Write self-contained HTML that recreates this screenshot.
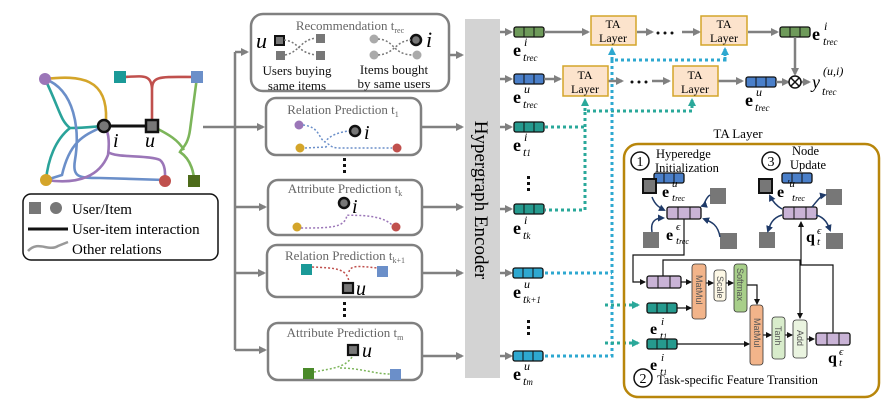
<!DOCTYPE html>
<html><head><meta charset="utf-8"><style>
html,body{margin:0;padding:0;background:#fff}
svg{display:block;font-family:"Liberation Serif",serif}
</style></head><body>
<svg width="888" height="408" viewBox="0 0 888 408" xmlns="http://www.w3.org/2000/svg">
<defs>
<marker id="ag" markerWidth="8" markerHeight="8" refX="6" refY="4" orient="auto" markerUnits="userSpaceOnUse"><path d="M0,0 L8,4 L0,8z" fill="#808080"/></marker>
<marker id="ak" markerWidth="6" markerHeight="6" refX="5" refY="3" orient="auto" markerUnits="userSpaceOnUse"><path d="M0,0 L6,3 L0,6z" fill="#111"/></marker>
<marker id="at" markerWidth="8" markerHeight="8" refX="6" refY="4" orient="auto" markerUnits="userSpaceOnUse"><path d="M0,0 L8,4 L0,8z" fill="#2aa89a"/></marker>
<marker id="ac" markerWidth="8" markerHeight="8" refX="6" refY="4" orient="auto" markerUnits="userSpaceOnUse"><path d="M0,0 L8,4 L0,8z" fill="#2ea8d0"/></marker>
<marker id="an" markerWidth="7" markerHeight="7" refX="5" refY="3.5" orient="auto" markerUnits="userSpaceOnUse"><path d="M0,0 L7,3.5 L0,7z" fill="#1f3a68"/></marker>
</defs>

<!-- left graph -->
<g fill="none" stroke-width="2.6">
<path d="M45,79 C80,75 108,78 106,120" stroke="#d4a52a"/>
<path d="M45,79 C60,110 60,120 70,128 C85,128 100,126 104,126" stroke="#2aa39a"/>
<path d="M70,128 C55,140 48,160 46,180" stroke="#2aa39a"/>
<path d="M45,79 C75,90 80,130 75,160 C72,178 80,178 100,178 L165,180" stroke="#6b8fc9"/>
<path d="M104,126 C85,135 70,140 62,175 L46,180" stroke="#6b8fc9"/>
<path d="M46,180 C80,185 100,175 108,155 C110,140 108,130 104,126" stroke="#9b76b8"/>
<path d="M108,152 C115,158 150,155 160,160 C166,165 165,175 165,180" stroke="#9b76b8"/>
<path d="M120,77 C140,77 152,72 152,90 L152,126 M152,90 C152,75 160,77 197,77" stroke="#c0504d"/>
<path d="M197,77 L190,130 C188,145 182,148 180,152 C192,160 194,175 194,181 M152,126 C170,135 178,140 184,150" stroke="#7cb55a"/>
</g>
<line x1="104" y1="126" x2="152" y2="126" stroke="#111" stroke-width="3"/>
<circle cx="45" cy="79" r="6" fill="#9b76b8"/>
<rect x="114" y="71" width="12" height="12" fill="#1b9a98"/>
<rect x="191" y="71" width="12" height="12" fill="#6b8fc9"/>
<circle cx="46" cy="180" r="6" fill="#d4a52a"/>
<circle cx="165" cy="181" r="6" fill="#c0504d"/>
<rect x="188" y="175" width="12" height="12" fill="#4d6b1a"/>
<circle cx="104" cy="126" r="6" fill="#777" stroke="#111" stroke-width="2.5"/>
<rect x="146" y="120" width="12" height="12" fill="#777" stroke="#111" stroke-width="2.5"/>
<text x="113" y="147" font-size="20" font-style="italic">i</text>
<text x="145" y="147" font-size="20" font-style="italic">u</text>

<!-- legend -->
<rect x="23" y="194" width="195" height="66" rx="8" fill="#fff" stroke="#111" stroke-width="1.5"/>
<rect x="29" y="202" width="12" height="12" fill="#777"/>
<circle cx="56" cy="208" r="6" fill="#777"/>
<text x="72" y="214" font-size="15">User/Item</text>
<line x1="28" y1="229" x2="68" y2="229" stroke="#111" stroke-width="3"/>
<text x="72" y="234" font-size="15">User-item interaction</text>
<path d="M28,251 C38,240 48,252 58,246 L68,242" stroke="#999" stroke-width="2.5" fill="none"/>
<text x="72" y="254" font-size="15">Other relations</text>

<!-- branching arrows -->
<g stroke="#808080" stroke-width="2.5" fill="none">
<line x1="203" y1="127" x2="263" y2="127" marker-end="url(#ag)"/>
<line x1="235" y1="52" x2="235" y2="350"/>
<line x1="235" y1="52" x2="247" y2="52" marker-end="url(#ag)"/>
<line x1="235" y1="207" x2="265" y2="207" marker-end="url(#ag)"/>
<line x1="235" y1="273" x2="264" y2="273" marker-end="url(#ag)"/>
<line x1="235" y1="350" x2="265" y2="350" marker-end="url(#ag)"/>
<line x1="450" y1="55" x2="462" y2="55" marker-end="url(#ag)"/>
<line x1="421" y1="127" x2="462" y2="127" marker-end="url(#ag)"/>
<line x1="422" y1="207" x2="462" y2="207" marker-end="url(#ag)"/>
<line x1="422" y1="273" x2="462" y2="273" marker-end="url(#ag)"/>
<line x1="422" y1="356" x2="462" y2="356" marker-end="url(#ag)"/>
</g>

<!-- task boxes -->
<g fill="#fff" stroke="#808080" stroke-width="2.5">
<rect x="251" y="14" width="198" height="77" rx="12"/>
<rect x="266" y="98" width="155" height="57" rx="10"/>
<rect x="268" y="180" width="154" height="55" rx="10"/>
<rect x="267" y="245" width="155" height="52" rx="10"/>
<rect x="268" y="323" width="154" height="57" rx="10"/>
</g>
<g font-size="13" fill="#666" text-anchor="middle">
<text x="350" y="30">Recommendation t<tspan font-size="8" dy="3">rec</tspan></text>
<text x="343" y="114">Relation Prediction t<tspan font-size="8" dy="3">1</tspan></text>
<text x="345" y="193">Attribute Prediction t<tspan font-size="8" dy="3">k</tspan></text>
<text x="345" y="260">Relation Prediction t<tspan font-size="8" dy="3">k+1</tspan></text>
<text x="345" y="337">Attribute Prediction t<tspan font-size="8" dy="3">m</tspan></text>
</g>
<g font-size="13" fill="#111" text-anchor="middle">
<text x="297" y="75">Users buying</text><text x="297" y="90">same items</text>
<text x="394" y="74">Items bought</text><text x="394" y="88">by same users</text>
</g>
<!-- rec content -->
<text x="256" y="48" font-size="22" font-style="italic">u</text>
<rect x="275" y="36" width="9" height="9" fill="#777" stroke="#111" stroke-width="2"/>
<rect x="316" y="34" width="9" height="9" fill="#777"/><rect x="276" y="51" width="9" height="9" fill="#777"/><rect x="316" y="51" width="9" height="9" fill="#777"/>
<path d="M284,40 C300,42 296,52 316,55 M285,55 C300,52 300,40 316,38" stroke="#777" stroke-width="1.5" stroke-dasharray="2,2" fill="none"/>
<circle cx="374" cy="39" r="4.5" fill="#aaa"/><circle cx="374" cy="55" r="4.5" fill="#aaa"/><circle cx="417" cy="55" r="4.5" fill="#aaa"/>
<circle cx="416" cy="40" r="5" fill="#777" stroke="#111" stroke-width="2.5"/>
<text x="426" y="47" font-size="22" font-style="italic">i</text>
<path d="M378,39 C395,40 392,54 412,55 M378,55 C395,54 395,41 411,40" stroke="#777" stroke-width="1.5" stroke-dasharray="2,2" fill="none"/>
<!-- t1 -->
<circle cx="299" cy="125" r="4.5" fill="#9b76b8"/><circle cx="300" cy="148" r="4.5" fill="#d4a52a"/><circle cx="397" cy="148" r="4.5" fill="#c0504d"/>
<circle cx="355" cy="131" r="5" fill="#777" stroke="#111" stroke-width="2.5"/>
<text x="364" y="139" font-size="20" font-style="italic">i</text>
<path d="M303,125 C320,127 318,138 325,142 C330,135 340,132 349,131 M305,148 L326,147 C330,140 326,148 340,148 L392,148" stroke="#6b8fc9" stroke-width="1.5" stroke-dasharray="2,2" fill="none"/>
<g fill="#111"><rect x="343" y="158" width="3" height="3"/><rect x="343" y="164" width="3" height="3"/><rect x="343" y="170" width="3" height="3"/></g>
<!-- tk -->
<circle cx="344" cy="203" r="5" fill="#777" stroke="#111" stroke-width="2.5"/>
<text x="352" y="213" font-size="20" font-style="italic">i</text>
<circle cx="297" cy="227" r="4.5" fill="#d4a52a"/><circle cx="396" cy="227" r="4.5" fill="#c0504d"/>
<path d="M301,228 C330,228 345,228 347,215 C350,216 380,213 392,225" stroke="#9b76b8" stroke-width="1.5" stroke-dasharray="2,2" fill="none"/>
<!-- tk+1 -->
<rect x="301" y="264" width="11" height="11" fill="#1b9a98"/><rect x="377" y="266" width="11" height="11" fill="#6b8fc9"/>
<rect x="343" y="283" width="10" height="10" fill="#777" stroke="#111" stroke-width="2.2"/>
<text x="356" y="295" font-size="20" font-style="italic">u</text>
<path d="M312,267 C335,268 347,268 349,282 M349,272 C350,265 360,266 377,268" stroke="#c0504d" stroke-width="1.5" stroke-dasharray="2,2" fill="none"/>
<g fill="#111"><rect x="343" y="302" width="3" height="3"/><rect x="343" y="308" width="3" height="3"/><rect x="343" y="314" width="3" height="3"/></g>
<!-- tm -->
<rect x="348" y="345" width="10" height="10" fill="#777" stroke="#111" stroke-width="2.2"/>
<text x="362" y="357" font-size="20" font-style="italic">u</text>
<rect x="303" y="368" width="11" height="11" fill="#4a8a2a"/><rect x="390" y="369" width="11" height="11" fill="#6b8fc9"/>
<path d="M314,372 C335,368 345,367 352,357 M340,368 C360,368 375,374 390,374" stroke="#7cb55a" stroke-width="1.5" stroke-dasharray="2,2" fill="none"/>

<!-- encoder -->
<rect x="465" y="19" width="35" height="359" fill="#d3d3d3"/>
<text x="0" y="0" font-size="19" transform="translate(475,200) rotate(90)" text-anchor="middle">Hypergraph Encoder</text>
<g stroke="#808080" stroke-width="2.5">
<line x1="500" y1="32" x2="511" y2="32" marker-end="url(#ag)"/>
<line x1="500" y1="79" x2="511" y2="79" marker-end="url(#ag)"/>
<line x1="500" y1="127" x2="511" y2="127" marker-end="url(#ag)"/>
<line x1="500" y1="209" x2="511" y2="209" marker-end="url(#ag)"/>
<line x1="500" y1="273" x2="511" y2="273" marker-end="url(#ag)"/>
<line x1="500" y1="356" x2="511" y2="356" marker-end="url(#ag)"/>
</g>

<g stroke="#111" stroke-width="1.3">
<g fill="#6e9a5a"><rect x="514" y="27" width="30" height="10" rx="2"/><rect x="780" y="27" width="30" height="10" rx="2"/></g>
<g fill="#4a7fc9"><rect x="514" y="74" width="30" height="10" rx="2"/><rect x="746" y="77" width="30" height="10" rx="2"/><rect x="654" y="173" width="30" height="10" rx="2"/><rect x="782" y="173" width="30" height="10" rx="2"/></g>
<g fill="#259a8e"><rect x="514" y="122" width="30" height="10" rx="2"/><rect x="514" y="204" width="30" height="10" rx="2"/><rect x="647" y="303" width="30" height="10" rx="2"/><rect x="647" y="339" width="30" height="10" rx="2"/></g>
<g fill="#2ea8d0"><rect x="513" y="268" width="30" height="10" rx="2"/><rect x="513" y="351" width="30" height="10" rx="2"/></g>
<g fill="#c9b3d6"><rect x="667" y="207" width="34" height="12" rx="2"/><rect x="783" y="207" width="34" height="12" rx="2"/><rect x="647" y="276" width="34" height="12" rx="2"/><rect x="816" y="333" width="34" height="12" rx="2"/></g>
</g>
<g stroke="#111" stroke-width="1">
<path d="M524,27v10M534,27v10M790,27v10M800,27v10M524,74v10M534,74v10M756,77v10M766,77v10M664,173v10M674,173v10M792,173v10M802,173v10M524,122v10M534,122v10M524,204v10M534,204v10M657,303v10M667,303v10M657,339v10M667,339v10M523,268v10M533,268v10M523,351v10M533,351v10M678,207v12M690,207v12M794,207v12M806,207v12M658,276v12M670,276v12M827,333v12M839,333v12"/>
</g>
<!-- embedding labels -->
<g font-size="18" font-weight="bold">
<text x="513" y="56">e</text><text x="513" y="103">e</text><text x="513" y="151">e</text><text x="513" y="234">e</text><text x="513" y="298">e</text><text x="513" y="380">e</text>
<text x="812" y="40">e</text><text x="745" y="106">e</text>
</g>
<g font-size="12" font-style="italic">
<text x="524" y="46">i</text><text x="523" y="61">t<tspan font-size="9">rec</tspan></text>
<text x="524" y="93">u</text><text x="523" y="108">t<tspan font-size="9">rec</tspan></text>
<text x="524" y="141">i</text><text x="523" y="156">t<tspan font-size="9">1</tspan></text>
<text x="524" y="224">i</text><text x="523" y="239">t<tspan font-size="9">k</tspan></text>
<text x="524" y="288">u</text><text x="523" y="303">t<tspan font-size="9">k+1</tspan></text>
<text x="524" y="370">u</text><text x="523" y="385">t<tspan font-size="9">m</tspan></text>
<text x="824" y="30">i</text><text x="823" y="45">t<tspan font-size="9">rec</tspan></text>
<text x="756" y="96">u</text><text x="755" y="111">t<tspan font-size="9">rec</tspan></text>
</g>
<g fill="#111"><rect x="527" y="176" width="3" height="3"/><rect x="527" y="182" width="3" height="3"/><rect x="527" y="188" width="3" height="3"/>
<rect x="527" y="320" width="3" height="3"/><rect x="527" y="326" width="3" height="3"/><rect x="527" y="332" width="3" height="3"/></g>

<!-- dotted connectors -->
<g fill="none" stroke-width="3" stroke-dasharray="3,3">
<path d="M545,127 H585 V210 H545" stroke="#2aa89a"/>
<path d="M585,127 V111 H692 V100" stroke="#2aa89a" marker-end="url(#at)"/>
<path d="M585,111 V100" stroke="#2aa89a" marker-end="url(#at)"/>
<path d="M545,273 H612 M545,356 H612 V60 H725 V49" stroke="#2ea8d0"/>
<path d="M612,60 V49" stroke="#2ea8d0" marker-end="url(#ac)"/>
<path d="M725,60 V49" stroke="#2ea8d0" marker-end="url(#ac)"/>
<path d="M605,305 H638" stroke="#2aa89a" marker-end="url(#at)"/>
<path d="M605,343 H638" stroke="#2aa89a" marker-end="url(#at)"/>
</g>

<!-- TA layers top -->
<g stroke="#808080" stroke-width="2.5" fill="none">
<line x1="544" y1="32" x2="588" y2="32" marker-end="url(#ag)"/>
<line x1="637" y1="32" x2="652" y2="32" marker-end="url(#ag)"/>
<line x1="682" y1="32" x2="699" y2="32" marker-end="url(#ag)"/>
<line x1="748" y1="32" x2="777" y2="32" marker-end="url(#ag)"/>
<line x1="544" y1="79" x2="560" y2="79" marker-end="url(#ag)"/>
<line x1="608" y1="81" x2="622" y2="81" marker-end="url(#ag)"/>
<line x1="652" y1="81" x2="669" y2="81" marker-end="url(#ag)"/>
<line x1="718" y1="81" x2="742" y2="81" marker-end="url(#ag)"/>
<line x1="795" y1="37" x2="795" y2="74" marker-end="url(#ag)"/>
<line x1="776" y1="82" x2="788" y2="82" marker-end="url(#ag)"/>
<line x1="801" y1="82" x2="809" y2="82" marker-end="url(#ag)"/>
</g>
<g fill="#111"><circle cx="658" cy="33" r="1.5"/><circle cx="665" cy="33" r="1.5"/><circle cx="672" cy="33" r="1.5"/>
<circle cx="632" cy="82" r="1.5"/><circle cx="639" cy="82" r="1.5"/><circle cx="646" cy="82" r="1.5"/></g>
<g fill="#fce3cc" stroke="#d4a52a" stroke-width="1.5">
<rect x="591" y="16" width="45" height="29"/><rect x="701" y="16" width="46" height="29"/>
<rect x="563" y="66" width="45" height="30"/><rect x="673" y="66" width="45" height="30"/>
</g>
<g font-size="12" text-anchor="middle">
<text x="613" y="28">TA</text><text x="613" y="42">Layer</text>
<text x="724" y="28">TA</text><text x="724" y="42">Layer</text>
<text x="585" y="79">TA</text><text x="585" y="93">Layer</text>
<text x="695" y="79">TA</text><text x="695" y="93">Layer</text>
</g>
<circle cx="795" cy="82" r="6" fill="#fff" stroke="#111" stroke-width="1.5"/>
<path d="M791,78 L799,86 M799,78 L791,86" stroke="#111" stroke-width="1.5"/>
<text x="812" y="88" font-size="18" font-style="italic">y</text>
<text x="823" y="75" font-size="12" font-style="italic">(u,i)</text>
<text x="822" y="95" font-size="12" font-style="italic">t<tspan font-size="9">rec</tspan></text>

<!-- TA layer detail -->
<text x="738" y="138" font-size="13" text-anchor="middle">TA Layer</text>
<rect x="624" y="144" width="255" height="253" rx="14" fill="none" stroke="#b8860b" stroke-width="2.5"/>
<g fill="#fff" stroke="#111" stroke-width="1.5"><circle cx="640" cy="161" r="9"/><circle cx="771" cy="161" r="9"/><circle cx="643" cy="378" r="9"/></g>
<g font-size="14" text-anchor="middle"><text x="640" y="166">1</text><text x="771" y="166">3</text><text x="643" y="383">2</text></g>
<g font-size="12.5"><text x="656" y="158">Hyperedge</text><text x="655" y="172">Initialization</text>
<text x="792" y="155">Node</text><text x="790" y="169">Update</text>
<text x="657" y="384">Task-specific Feature Transition</text></g>
<g fill="#777"><rect x="643" y="179" width="13" height="14" stroke="#111" stroke-width="2"/><rect x="710" y="188" width="16" height="16"/><rect x="643" y="232" width="16" height="16"/><rect x="720" y="233" width="17" height="16"/>
<rect x="759" y="179" width="13" height="14" stroke="#111" stroke-width="2"/><rect x="826" y="189" width="16" height="16"/><rect x="759" y="232" width="16" height="16"/><rect x="826" y="233" width="17" height="16"/></g>
<g fill="none" stroke="#1f3a68" stroke-width="1.5">
<path d="M652,197 C655,205 660,208 664,210" marker-end="url(#an)"/>
<path d="M710,195 C705,198 705,205 702,206" marker-end="url(#an)"/>
<path d="M652,232 C650,220 657,218 663,218" marker-end="url(#an)"/>
<path d="M720,237 C718,225 712,222 704,219" marker-end="url(#an)"/>
<path d="M782,209 C775,205 772,200 770,196" marker-end="url(#an)"/>
<path d="M812,207 C818,200 820,196 825,195" marker-end="url(#an)"/>
<path d="M782,215 C772,218 770,225 768,231" marker-end="url(#an)"/>
<path d="M816,215 C826,218 828,225 830,230" marker-end="url(#an)"/>
</g>
<g font-size="16" font-weight="bold"><text x="662" y="197">e</text><text x="666" y="240">e</text><text x="777" y="197">e</text><text x="806" y="242">q</text><text x="828" y="363">q</text><text x="650" y="334">e</text><text x="650" y="370">e</text></g>
<g font-size="11" font-style="italic"><text x="672" y="187">u</text><text x="672" y="201">t<tspan font-size="8">rec</tspan></text>
<text x="676" y="230">ϵ</text><text x="676" y="244">t<tspan font-size="8">rec</tspan></text>
<text x="787" y="187">′u</text><text x="792" y="201">t<tspan font-size="8">rec</tspan></text>
<text x="817" y="234">ϵ</text><text x="817" y="245">t</text>
<text x="839" y="355">ϵ</text><text x="839" y="366">t</text>
<text x="661" y="325">i</text><text x="660" y="339">t<tspan font-size="8">1</tspan></text>
<text x="661" y="361">i</text><text x="660" y="375">t<tspan font-size="8">1</tspan></text></g>

<!-- flow -->
<g fill="none" stroke="#111" stroke-width="1.2">
<path d="M684,219 V255 H633 V282 H645" marker-end="url(#ak)"/>
<path d="M663,276 V260 H800 V318" marker-end="url(#ak)"/>
<path d="M681,282 H691" marker-end="url(#ak)"/>
<path d="M677,308 H691" marker-end="url(#ak)"/>
<path d="M705,283 H713" marker-end="url(#ak)"/>
<path d="M726,283 H733" marker-end="url(#ak)"/>
<path d="M746,285 H757 V304" marker-end="url(#ak)"/>
<path d="M677,344 H749" marker-end="url(#ak)"/>
<path d="M763,335 H771" marker-end="url(#ak)"/>
<path d="M785,335 H792" marker-end="url(#ak)"/>
<path d="M807,339 H814" marker-end="url(#ak)"/>
<path d="M833,333 V265 H801 V222" marker-end="url(#ak)"/>
</g>
<g stroke="#333" stroke-width="0.8">
<rect x="692" y="264" width="14" height="55" rx="3" fill="#f2b48a"/>
<rect x="714" y="270" width="12" height="31" rx="3" fill="#fdf8e6"/>
<rect x="734" y="264" width="13" height="48" rx="3" fill="#a8cf8a"/>
<rect x="750" y="305" width="13" height="60" rx="3" fill="#f2b48a"/>
<rect x="772" y="317" width="13" height="42" rx="3" fill="#d8eccb"/>
<rect x="793" y="320" width="14" height="38" rx="3" fill="#eaf4e0"/>
</g>
<g font-family="Liberation Sans, sans-serif" font-size="9" fill="#555">
<text transform="translate(696,275) rotate(90)">MatMul</text>
<text transform="translate(717,276) rotate(90)">Scale</text>
<text transform="translate(737,268) rotate(90)">Softmax</text>
<text transform="translate(754,318) rotate(90)">MatMul</text>
<text transform="translate(775,326) rotate(90)">Tanh</text>
<text transform="translate(797,330) rotate(90)">Add</text>
</g>
</svg>
</body></html>
